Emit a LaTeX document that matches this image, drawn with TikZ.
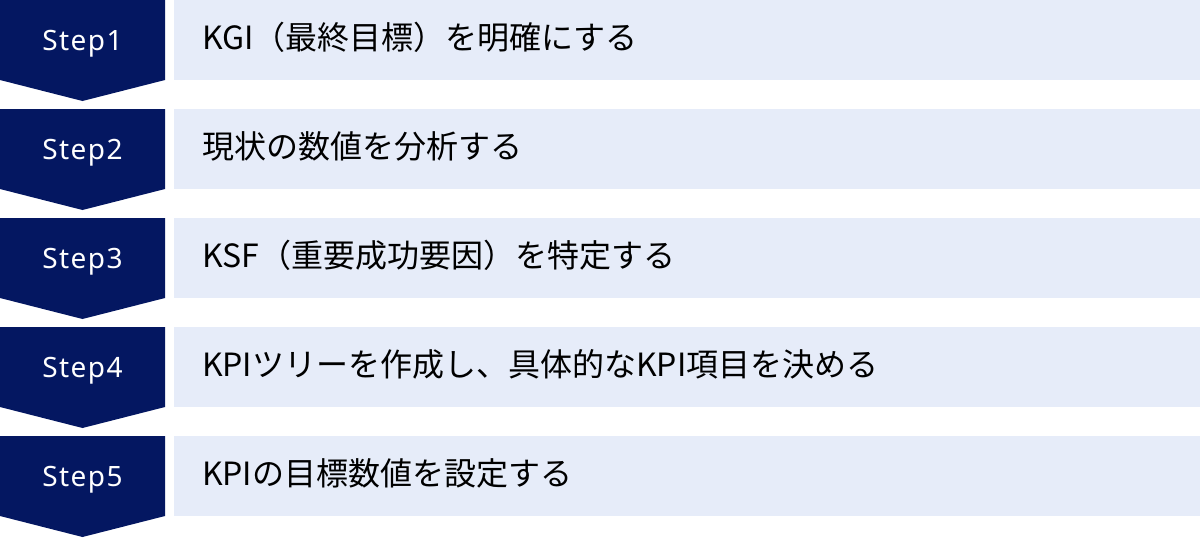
\documentclass[tikz,border=0pt]{standalone}
\usepackage{fontspec}
\setmainfont{Noto Sans CJK JP}
\newfontfamily\stepfont[LetterSpace=5]{Noto Sans}
\definecolor{stepnavy}{HTML}{041761}
\definecolor{steplight}{HTML}{E6ECF9}
\tikzset{
  steplabel/.style={text=white,font=\stepfont\fontsize{28}{32}\selectfont,inner sep=0pt,anchor=base},
  stepbox/.style={fill=steplight,minimum width=1026pt,minimum height=80pt,
    text width=970pt,inner xsep=28pt,align=left,text height=22pt,text depth=4pt,
    font=\fontsize{32}{38}\selectfont},
}
\newcommand{\steparrow}[1]{\fill[stepnavy] (0,#1) -- (165,#1) -- (165,#1+80) -- (82.5,#1+101) -- (0,#1+80) -- cycle;}
\begin{document}
\begin{tikzpicture}[x=1pt,y=-1pt]
  \useasboundingbox (0,0) rectangle (1200,538);
    \steparrow{0}
  \steparrow{109}
  \steparrow{218}
  \steparrow{327}
  \steparrow{436}
    \node [steplabel] (s1) at (82.5,50) {Step1};
  \node [steplabel] (s2) at (82.5,159) {Step2};
  \node [steplabel] (s3) at (82.5,268) {Step3};
  \node [steplabel] (s4) at (82.5,377) {Step4};
  \node [steplabel] (s5) at (82.5,486) {Step5};
    \node [stepbox] (b1) at (687,40) {KGI（最終目標）を明確にする};
  \node [stepbox] (b2) at (687,149) {現状の数値を分析する};
  \node [stepbox] (b3) at (687,258) {KSF（重要成功要因）を特定する};
  \node [stepbox] (b4) at (687,367) {KPIツリーを作成し、具体的なKPI項目を決める};
  \node [stepbox] (b5) at (687,476) {KPIの目標数値を設定する};
\end{tikzpicture}
\end{document}
